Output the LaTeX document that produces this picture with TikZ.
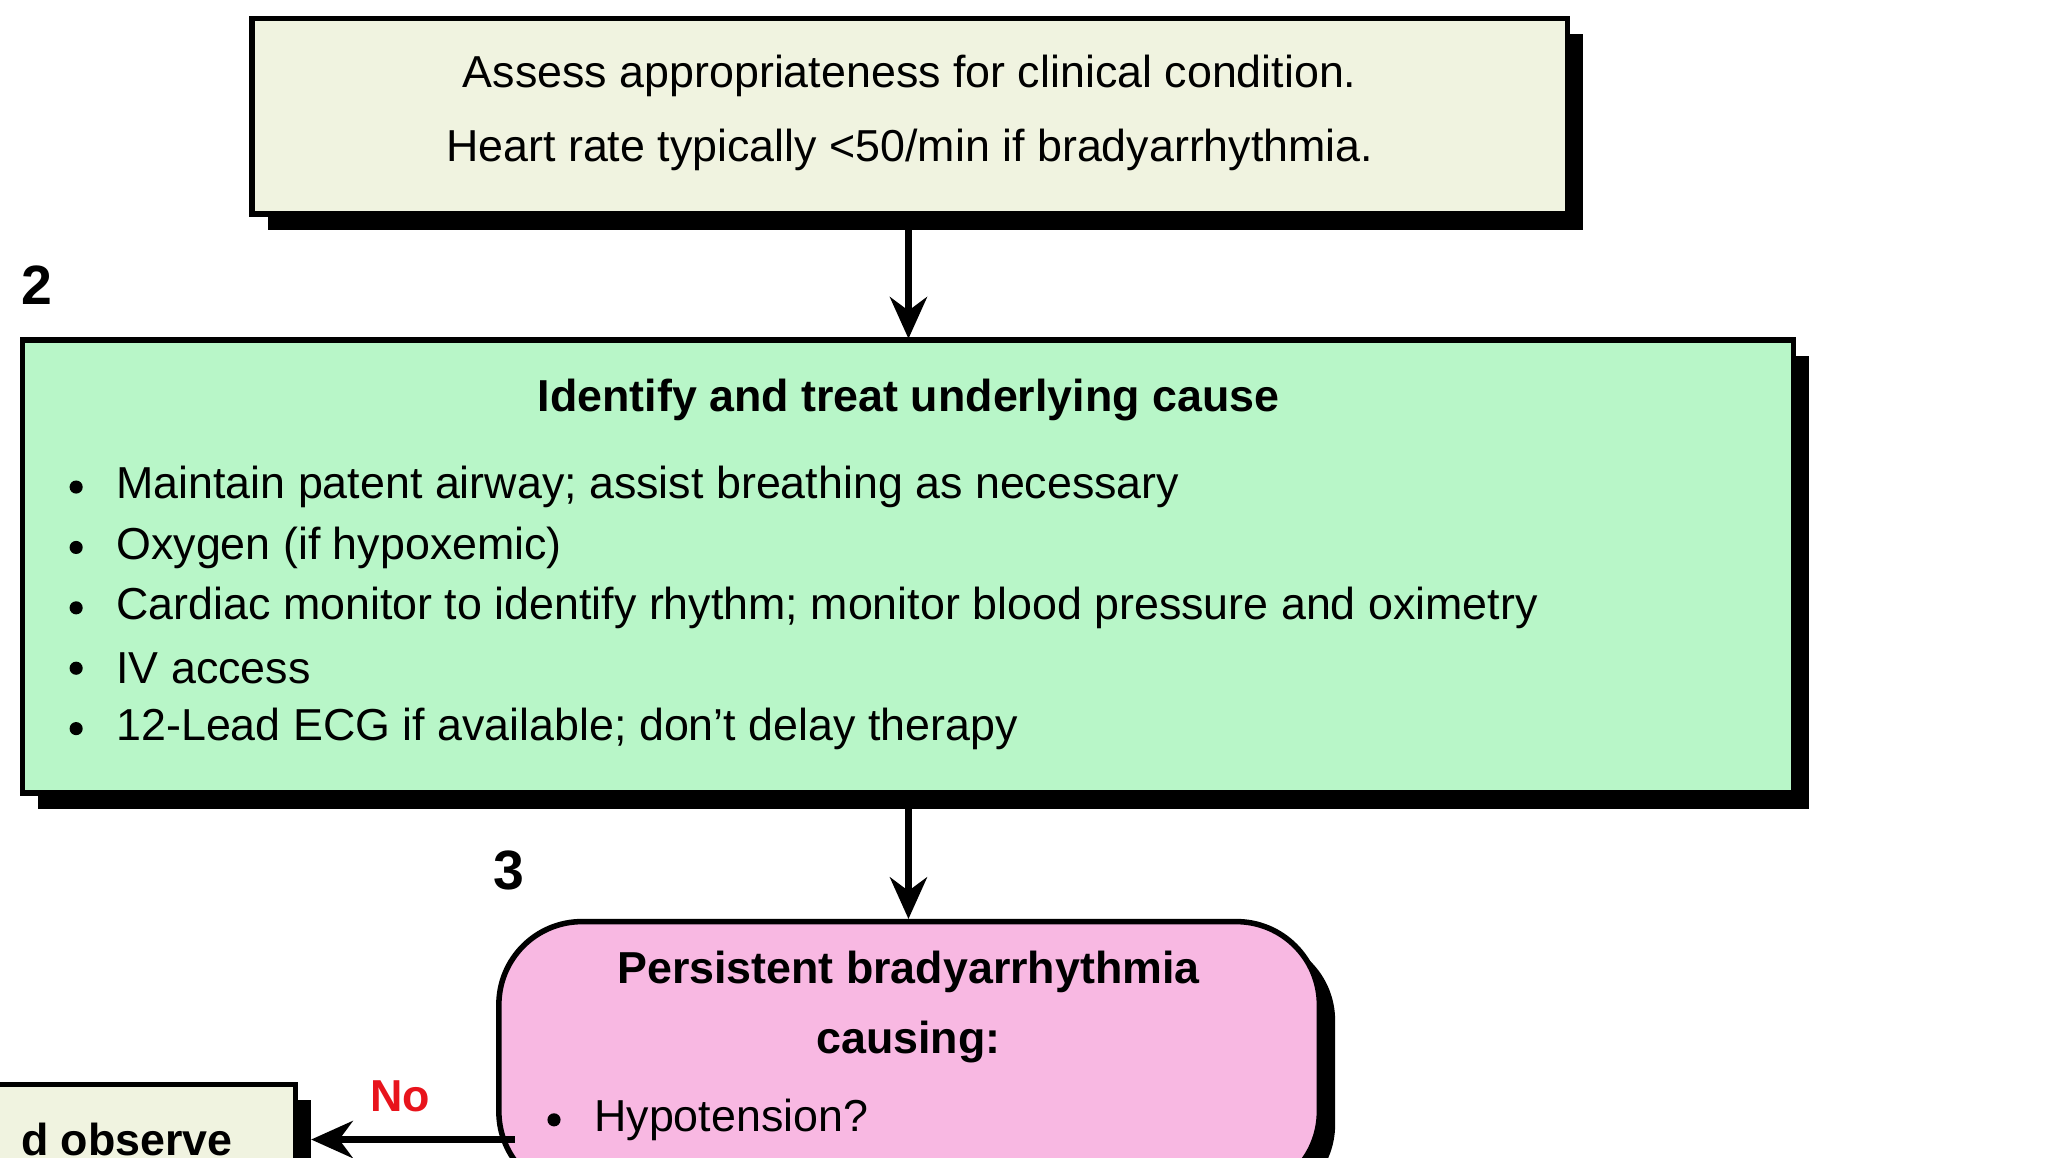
\documentclass[tikz,border=0pt]{standalone}
\usepackage{fontspec}
\setmainfont{Liberation Sans}
\usetikzlibrary{positioning,arrows.meta}
\definecolor{beige}{HTML}{F0F3E0}
\definecolor{mint}{HTML}{B8F6C8}
\definecolor{pinkbox}{HTML}{F8B8E2}
\definecolor{nored}{HTML}{E8141C}
\tikzset{
 box/.style={draw=black,line width=1.2pt,inner sep=0pt},
 shade/.style={fill=black},
 flow/.style={line width=1.6pt,-{Stealth[length=9pt,width=8pt]}},
 stepno/.style={font=\bfseries\fontsize{12}{14}\selectfont},
 txt/.style={font=\fontsize{9.7}{12}\selectfont,inner sep=0pt},
}
\begin{document}
\begin{tikzpicture}[x=0.01cm,y=-0.01cm]
\useasboundingbox (0,0) rectangle (1560,882);
\clip (0,0) rectangle (1560,882);
%box 1
\fill[shade] (204,26) rectangle (1206,175);
\draw[box,fill=beige] (192,14) rectangle (1194,163);
\node[txt,align=center] (assess) at (693,86) {Assess appropriateness for clinical condition.\\[4pt]Heart rate typically <50/min if bradyarrhythmia.};
\coordinate (a1) at (692,175);
\coordinate (a2) at (692,258);
\draw[flow] (a1) -- (a2);
\node[stepno] (n2) at (28,217) {2};
%box 2
\fill[shade] (29,271) rectangle (1378,616);
\draw[box,fill=mint] (17,259) rectangle (1366,604);
\node[txt,font=\bfseries\fontsize{9.7}{12}\selectfont] (cause) at (692,305) {Identify and treat underlying cause};
\foreach \y/\t in {371/Maintain patent airway; assist breathing as necessary,
  417/Oxygen (if hypoxemic),
  463/Cardiac monitor to identify rhythm; monitor blood pressure and oximetry,
  509/IV access,
  555/12-Lead ECG if available; don’t delay therapy}{
  \fill (58,\y) circle (5);
  \node[txt,anchor=west] at (88,\y) {\t};
}
\coordinate (b1) at (692,616);
\coordinate (b2) at (692,700);
\draw[flow] (b1) -- (b2);
\node[stepno] (n3) at (388,663) {3};
%box 3
\fill[shade,rounded corners=18pt] (392,714) rectangle (1017,920);
\draw[box,fill=pinkbox,rounded corners=18pt] (380,702) rectangle (1005,910);
\node[txt,align=center,font=\bfseries\fontsize{9.7}{12}\selectfont] (persist) at (692,767) {Persistent bradyarrhythmia\\[3pt]causing:};
\fill (422,853) circle (5);
\node[txt,anchor=west] (hypo) at (452,853) {Hypotension?};
%left box
\fill[shade] (-20,838) rectangle (237,900);
\draw[box,fill=beige] (-30,826) rectangle (225,900);
\node[txt,anchor=east,font=\bfseries\fontsize{9.7}{12}\selectfont] (observe) at (178,868) {d observe};
\coordinate (c1) at (392,868);
\coordinate (c2) at (237,868);
\draw[flow] (c1) -- (c2);
\node[txt,font=\bfseries\fontsize{9.7}{12}\selectfont,text=nored] (no) at (305,835) {No};
\end{tikzpicture}
\end{document}
